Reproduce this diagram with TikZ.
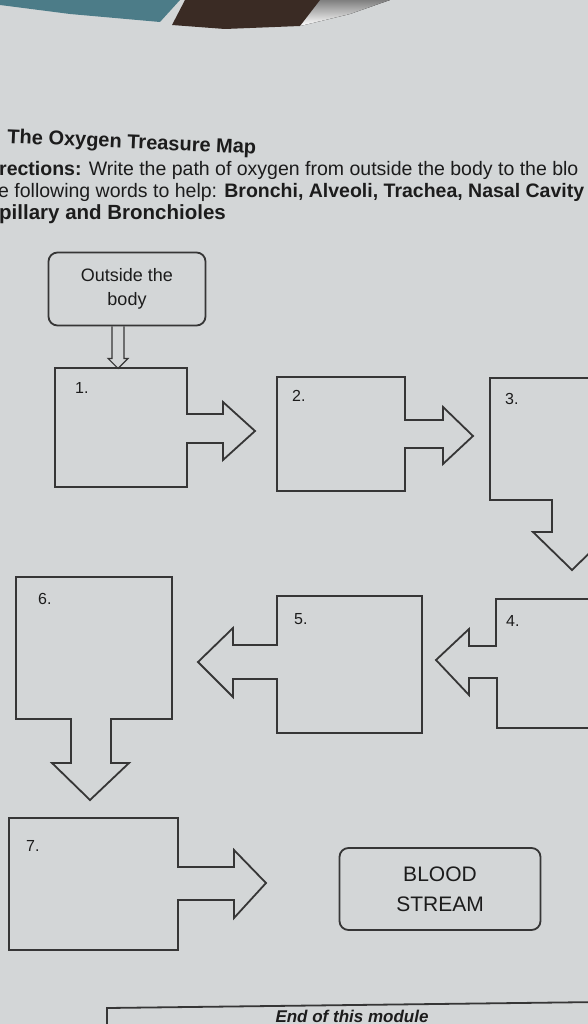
\documentclass[tikz,border=0pt]{standalone}
\usepackage{fontspec}
\setmainfont{Liberation Sans}
\usetikzlibrary{positioning}
\definecolor{paper}{HTML}{D3D6D7}
\definecolor{ink}{HTML}{363636}
\definecolor{print}{HTML}{1C1C1C}
\definecolor{desk}{HTML}{3A2B24}
\definecolor{cloth}{HTML}{4C7C88}
\definecolor{shade}{HTML}{2C3748}
\tikzset{
    mapbox/.style = {draw=ink, line width=1.8pt, line join=miter},
    endbox/.style = {draw=ink, line width=1.8pt, rounded corners=9pt,
        align=center, text=print},
    num/.style = {anchor=north west, inner sep=0pt, text=print,
        font=\fontsize{16}{18}\selectfont},
    line/.style = {anchor=base west, inner sep=0pt, text=print,
        font=\fontsize{19.5}{22}\selectfont}
}

\begin{document}
\begin{tikzpicture}[x=1pt, y=-1pt]
    \useasboundingbox (0,0) rectangle (588,1024);
    \clip (0,0) rectangle (588,1024);
    \fill[paper] (0,0) rectangle (588,1024);
    % photo edge at the top
    \fill[cloth] (0,0) -- (180,0) -- (160,22) -- (70,14) -- (0,5) -- cycle;
    \fill[shade] (300,0) -- (390,0) -- (350,14) -- (300,26) -- cycle;
    \fill[desk] (185,0) -- (320,0) -- (300,26) -- (225,29) -- (172,25) -- cycle;

    % heading
    \node [line, rotate=-2.5, font=\fontsize{20}{22}\selectfont\bfseries] (title) at (7,143) {The Oxygen Treasure Map};
    \node [line] (dir1) at (-1,176) {\textbf{rections:} Write the path of oxygen from outside the body to the blo};
    \node [line] (dir2) at (-2,198) {e following words to help: \textbf{Bronchi, Alveoli, Trachea, Nasal Cavity}};
    \node [line, font=\fontsize{20.5}{22}\selectfont\bfseries] (dir3) at (-1,220) {pillary and Bronchioles};

    % start
    \node [endbox, minimum width=157pt, minimum height=73pt, font=\fontsize{18}{24}\selectfont] (outside) at (127,289) {Outside the\\body};
    \draw [mapbox, line width=1.2pt] ([xshift=-15pt]outside.south) -- ++(0,32) -- ++(-4,0) -- ++(10,10)
        -- ++(10,-10) -- ++(-4,0) -- ++(0,-32);

    % row 1
    \draw [mapbox] (55,368) -- (187,368) -- (187,414) -- (223,414) -- (223,402) -- (255,431)
        -- (223,460) -- (223,443) -- (187,443) -- (187,487) -- (55,487) -- cycle;
    \node [num] (n1) at (75,382) {1.};
    \draw [mapbox] (277,377) -- (405,377) -- (405,420) -- (443,420) -- (443,407) -- (473,436)
        -- (443,464) -- (443,448) -- (405,448) -- (405,491) -- (277,491) -- cycle;
    \node [num] (n2) at (292,390) {2.};
    \draw [mapbox] (654,378) -- (490,378) -- (490,500) -- (552,500) -- (552,532) -- (533,532)
        -- (572,570) -- (611,532) -- (592,532) -- (592,500) -- (654,500);
    \node [num] (n3) at (505,393) {3.};

    % row 2
    \draw [mapbox] (654,599) -- (496,599) -- (496,646) -- (469,646) -- (469,629) -- (436,660)
        -- (469,695) -- (469,678) -- (497,678) -- (497,728) -- (654,728);
    \node [num] (n4) at (506,615) {4.};
    \draw [mapbox] (422,596) -- (277,596) -- (277,645) -- (233,645) -- (233,628) -- (198,662)
        -- (233,697) -- (233,679) -- (277,679) -- (277,733) -- (422,733) -- cycle;
    \node [num] (n5) at (294,613) {5.};
    \draw [mapbox] (16,577) -- (172,577) -- (172,719) -- (111,719) -- (111,763) -- (129,763)
        -- (90,800) -- (52,763) -- (71,763) -- (71,719) -- (16,719) -- cycle;
    \node [num] (n6) at (38,593) {6.};

    % row 3
    \draw [mapbox] (9,818) -- (178,818) -- (178,867) -- (234,867) -- (234,850) -- (266,883)
        -- (234,918) -- (234,900) -- (178,900) -- (178,950) -- (9,950) -- cycle;
    \node [num] (n7) at (26,840) {7.};
    \node [endbox, minimum width=201pt, minimum height=82pt, font=\fontsize{21}{30}\selectfont] (blood) at (440,889) {BLOOD\\STREAM};

    % footer
    \draw [mapbox] (107,1040) -- (107,1008) -- (600,1002);
    \node [anchor=base, inner sep=0pt, text=print, font=\fontsize{17}{19}\selectfont\bfseries\itshape] (module) at (352,1022.5) {End of this module};
\end{tikzpicture}
\end{document}
